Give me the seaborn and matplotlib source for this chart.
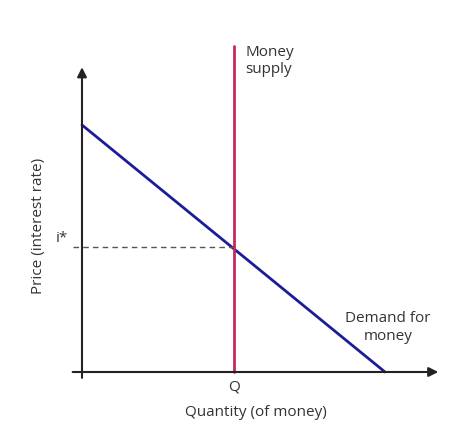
import matplotlib
matplotlib.use("Agg")
import matplotlib.pyplot as plt
import seaborn as sns

sns.set_style("white")
plt.rcParams['font.family'] = ['Open Sans', 'DejaVu Sans']

demand_q = [0, 10]
demand_p = [10, 0]
supply_q = [5, 5]
supply_p = [0, 13.2]
q_star = 5
i_star = 5.05

fig = plt.figure(figsize=(4.74, 4.44), dpi=100)
ax = fig.add_axes([0, 0, 1, 1])
ax.set_xlim(-2.706, 12.937)
ax.set_ylim(-2.915, 15.06)
ax.axis("off")

sns.lineplot(x=demand_q, y=demand_p, ax=ax, color="#1c1c9a", lw=2)
ax.plot(supply_q, supply_p, color="#c8285a", lw=2)
ax.plot([-0.3, q_star], [i_star, i_star], ls=(0, (4, 3)), color="#555555", lw=1)

arrow = dict(arrowstyle="-|>", color="#222222", lw=1.5, mutation_scale=14)
ax.annotate("", xy=(0, 12.45), xytext=(0, -0.35), arrowprops=arrow)
ax.annotate("", xy=(11.85, 0), xytext=(-0.4, 0), arrowprops=arrow)

fs = 11
ax.text(-0.45, i_star + 0.05, "i*", ha="right", va="bottom", fontsize=fs, color="#333333")
ax.text(q_star, -0.3, "Q", ha="center", va="top", fontsize=fs, color="#333333")
ax.text(5.4, 12.6, "Money\nsupply", ha="left", va="center", fontsize=fs, color="#333333", linespacing=1.2)
ax.text(10.1, 1.8, "Demand for\nmoney", ha="center", va="center", fontsize=fs, color="#333333", linespacing=1.2)
ax.text(5.75, -1.65, "Quantity (of money)", ha="center", va="center", fontsize=fs, color="#333333")
ax.text(-1.45, 5.9, "Price (interest rate)", ha="center", va="center", rotation=90, fontsize=fs, color="#333333")

fig.savefig("out.png", dpi=100)
